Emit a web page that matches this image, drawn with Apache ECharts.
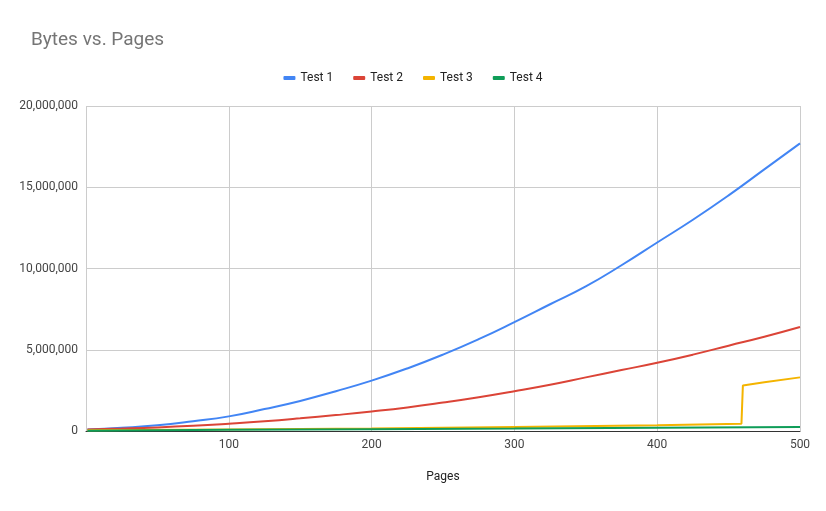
<!DOCTYPE html>
<html>
<head>
<meta charset="utf-8">
<script src="https://cdn.jsdelivr.net/npm/echarts@6/dist/echarts.min.js"></script>
<style>html,body{margin:0;padding:0;background:#fff}#main{width:826px;height:511px}</style>
</head>
<body>
<div id="main"></div>
<script>
// 数据
var pages1 = [1, 25, 50, 75, 100, 125, 150, 175, 200, 225, 250, 275, 300, 325, 350, 375, 400, 425, 450, 475, 500];
var test1 = [100000, 200000, 350000, 600000, 900000, 1350000, 1850000, 2450000, 3100000, 3850000, 4700000, 5650000, 6700000, 7800000, 8900000, 10200000, 11600000, 13000000, 14500000, 16100000, 17700000];
var test2 = [100000, 150000, 220000, 320000, 450000, 600000, 780000, 980000, 1200000, 1450000, 1750000, 2080000, 2450000, 2850000, 3300000, 3750000, 4200000, 4700000, 5250000, 5800000, 6400000];
var pages3 = [1, 100, 200, 300, 400, 459, 460, 475, 500];
var test3 = [50000, 100000, 150000, 250000, 350000, 450000, 2800000, 3000000, 3300000];
var pages4 = [1, 100, 200, 300, 400, 500];
var test4 = [20000, 70000, 110000, 150000, 200000, 250000];

function pairs(xs, ys) {
	var arr = [];
	for (var i = 0; i < xs.length; i++) {
		arr.push([xs[i], ys[i]]);
	}
	return arr;
}

var myChart = echarts.init(document.getElementById('main'));
var font = 'Roboto';
myChart.setOption({
	title: { text: 'Bytes vs. Pages', left: 26, top: 26, textStyle: { color: '#757575', fontSize: 19, fontWeight: 'normal', fontFamily: font } },
	legend: {
		top: 67, left: 'center', icon: 'roundRect', itemWidth: 12, itemHeight: 4, itemGap: 20,
		textStyle: { color: '#222', fontSize: 12, fontFamily: font },
		data: ['Test 1', 'Test 2', 'Test 3', 'Test 4']
	},
	grid: { left: 86, right: 26, top: 106, bottom: 80 },
	xAxis: {
		type: 'value', min: 0, max: 500, interval: 100,
		name: 'Pages', nameLocation: 'middle', nameGap: 40,
		nameTextStyle: { color: '#222', fontSize: 12, fontFamily: font },
		axisLine: { lineStyle: { color: '#333' } },
		axisTick: { show: false },
		axisLabel: { color: '#444', fontSize: 12, fontFamily: font, formatter: function (v) { return v === 0 ? '' : v; } },
		splitLine: { lineStyle: { color: '#ccc' } }
	},
	yAxis: {
		type: 'value', min: 0, max: 20000000, interval: 5000000,
		axisLine: { show: false }, axisTick: { show: false },
		axisLabel: { color: '#444', fontSize: 12, fontFamily: font },
		splitLine: { lineStyle: { color: '#ccc' } }
	},
	series: [
		{ name: 'Test 1', type: 'line', showSymbol: false, smooth: true, color: '#4285f4', lineStyle: { width: 2 }, data: pairs(pages1, test1) },
		{ name: 'Test 2', type: 'line', showSymbol: false, smooth: true, color: '#db4437', lineStyle: { width: 2 }, data: pairs(pages1, test2) },
		{ name: 'Test 3', type: 'line', showSymbol: false, color: '#f4b400', lineStyle: { width: 2 }, data: pairs(pages3, test3) },
		{ name: 'Test 4', type: 'line', showSymbol: false, color: '#0f9d58', lineStyle: { width: 2 }, data: pairs(pages4, test4) }
	]
});
</script>
</body>
</html>
